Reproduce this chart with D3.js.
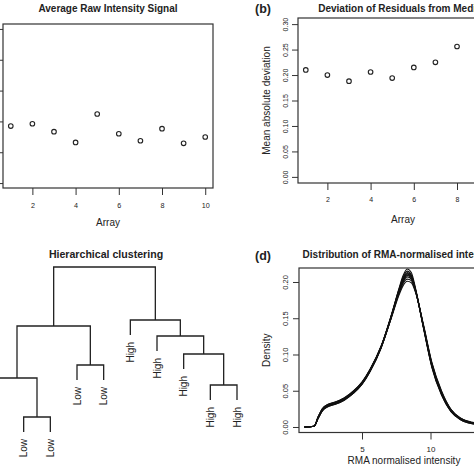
<!DOCTYPE html>
<html>
<head>
<meta charset="utf-8">
<script src="https://cdn.jsdelivr.net/npm/d3@7"></script>
<style>
  html, body { margin: 0; padding: 0; background: #fff; }
  svg { display: block; font-family: "Liberation Sans", Arial, Helvetica, sans-serif; }
</style>
</head>
<body>
<svg id="chart" width="474" height="474"></svg>
<script>
// ---------- DATA ----------
const arrayIdx = [1, 2, 3, 4, 5, 6, 7, 8, 9, 10];
const arrayTicks = [2, 4, 6, 8, 10];

// (a) average raw intensity (tick labels lie outside the crop)
const rawIntensity = [185, 192.5, 166.6, 132, 224, 160, 137.3, 176.3, 129, 149.4];
const rawTicks = [0, 100, 200, 300, 400, 500];

// (b) mean absolute deviation of residuals (arrays 1..8 visible)
const madArrays = [1, 2, 3, 4, 5, 6, 7, 8];
const madValues = [0.210, 0.200, 0.188, 0.206, 0.194, 0.215, 0.225, 0.256];
const madTicks = [0, 0.05, 0.10, 0.15, 0.20, 0.25, 0.30];

// (c) hierarchical clustering (leaves in plotted order)
const leafLabels = ["Low", "Low", "Low", "Low", "Low", "High", "High", "High", "High", "High"];
const mergeLeft   = ["L1", "L8", "L0", "L3", "L7", "L6", "M3", "L5", "M7"];
const mergeRight  = ["L2", "L9", "M1", "L4", "M2", "M5", "M4", "M6", "M8"];
const mergeHeight = [5.0, 8.2, 8.9, 10.2, 11.3, 13.1, 14.1, 14.7, 20.0];

// (d) density of RMA-normalised intensity (10 arrays)
const densX = [0.8, 1.5, 1.8, 2.1, 2.5, 3.0, 3.7, 4.4, 5.0, 5.6, 6.4, 7.1, 7.7, 8.0, 8.3, 8.6, 8.9, 9.5, 10.1, 10.8, 11.5, 12.2, 13.2, 14.2, 15.0];
const dens1  = [0,0.001,0.012,0.022,0.028,0.031,0.037,0.047,0.059,0.077,0.110,0.151,0.191,0.209,0.218,0.213,0.192,0.136,0.082,0.044,0.021,0.010,0.004,0.002,0.001];
const dens2  = [0,0.001,0.013,0.023,0.029,0.032,0.038,0.048,0.060,0.078,0.111,0.152,0.190,0.207,0.215,0.210,0.190,0.135,0.083,0.045,0.021,0.010,0.004,0.002,0.001];
const dens3  = [0,0.001,0.014,0.024,0.030,0.033,0.039,0.049,0.061,0.079,0.111,0.151,0.189,0.205,0.213,0.209,0.190,0.136,0.084,0.046,0.022,0.011,0.005,0.002,0.001];
const dens4  = [0,0.001,0.012,0.023,0.029,0.032,0.038,0.047,0.059,0.078,0.110,0.150,0.188,0.204,0.212,0.208,0.189,0.137,0.085,0.046,0.022,0.011,0.005,0.002,0.001];
const dens5  = [0,0.001,0.013,0.023,0.030,0.033,0.039,0.049,0.061,0.079,0.111,0.150,0.187,0.203,0.211,0.207,0.189,0.137,0.085,0.047,0.022,0.011,0.005,0.002,0.001];
const dens6  = [0,0.001,0.014,0.025,0.031,0.034,0.040,0.050,0.062,0.080,0.112,0.151,0.187,0.202,0.210,0.206,0.188,0.137,0.086,0.047,0.023,0.011,0.005,0.002,0.001];
const dens7  = [0,0.001,0.012,0.022,0.028,0.031,0.037,0.047,0.059,0.077,0.109,0.149,0.186,0.201,0.209,0.206,0.189,0.138,0.086,0.047,0.023,0.011,0.005,0.002,0.001];
const dens8  = [0,0.001,0.013,0.024,0.030,0.033,0.039,0.048,0.060,0.078,0.110,0.149,0.185,0.200,0.207,0.204,0.188,0.138,0.087,0.048,0.023,0.012,0.005,0.002,0.001];
const dens9  = [0,0.001,0.014,0.025,0.031,0.034,0.040,0.050,0.062,0.080,0.111,0.149,0.184,0.198,0.204,0.202,0.187,0.139,0.088,0.049,0.024,0.012,0.005,0.002,0.001];
const dens10 = [0,0.001,0.013,0.024,0.030,0.033,0.039,0.049,0.061,0.079,0.110,0.148,0.182,0.195,0.201,0.199,0.186,0.140,0.089,0.050,0.024,0.012,0.006,0.003,0.001];
const densSeries = [dens1, dens2, dens3, dens4, dens5, dens6, dens7, dens8, dens9, dens10];
const densTicksX = [5, 10, 15];
const densTicksY = [0, 0.05, 0.10, 0.15, 0.20];

// ---------- DRAWING ----------
const W = 474, H = 474;
const svg = d3.select("#chart");
const INK = "#222";
const BOX = "#333";

function styleAxis(g, fontSize) {
  g.select(".domain").remove();
  g.selectAll(".tick line").attr("stroke", BOX).attr("stroke-width", 1);
  g.selectAll(".tick text").attr("fill", INK).style("font-size", fontSize + "px")
    .style("font-family", '"Liberation Sans", Arial, sans-serif');
  // drop labels that fall outside the visible crop
  g.selectAll(".tick").each(function () {
    const b = this.getBoundingClientRect();
    if (b.right > W + 2) d3.select(this).select("text").remove();
  });
}
function rotateYLabels(g, off) {
  g.selectAll(".tick text")
    .attr("x", null).attr("dy", null).attr("y", null)
    .attr("text-anchor", "middle")
    .attr("transform", `translate(${-off},0) rotate(-90)`);
}
function box(x0, y0, x1, y1) {
  svg.append("rect").attr("x", x0).attr("y", y0).attr("width", x1 - x0).attr("height", y1 - y0)
    .attr("fill", "none").attr("stroke", BOX).attr("stroke-width", 1.2);
}
function text(x, y, s, opts = {}) {
  const t = svg.append("text").attr("x", x).attr("y", y).text(s)
    .attr("fill", INK)
    .style("font-size", (opts.size || 10) + "px")
    .style("font-weight", opts.bold ? "bold" : "normal")
    .attr("text-anchor", opts.anchor || "middle");
  if (opts.rotate) t.attr("transform", `rotate(-90,${x},${y})`);
  return t;
}

// ----- Panel (a) -----
{
  const L = 3, R = 213, T = 24, B = 188;
  const x = d3.scaleLinear().domain([0.64, 10.36]).range([L, R]);
  const y = d3.scaleLinear().domain([-16, 516]).range([B, T]);
  const gx = svg.append("g").attr("transform", `translate(0,${B})`)
    .call(d3.axisBottom(x).tickValues(arrayTicks).tickSize(7).tickPadding(8));
  styleAxis(gx, 7.2);
  // y tick labels of this panel lie left of the cropped image: ticks only
  const gy = svg.append("g").attr("transform", `translate(${L},0)`)
    .call(d3.axisLeft(y).tickValues(rawTicks).tickSize(7).tickFormat(() => ""));
  styleAxis(gy, 7.2);
  box(L, T, R, B);
  svg.append("g").selectAll("circle").data(arrayIdx).join("circle")
    .attr("cx", d => x(d)).attr("cy", (d, i) => y(rawIntensity[i])).attr("r", 2.3)
    .attr("fill", "none").attr("stroke", INK).attr("stroke-width", 1.1);
  text((L + R) / 2, 12, "Average Raw Intensity Signal", { bold: true, size: 10 });
  text((L + R) / 2, 225.5, "Array", { size: 10 });
}

// ----- Panel (b) -----
{
  const L = 298, R = 508, T = 18, B = 183;
  const x = d3.scaleLinear().domain([0.64, 10.36]).range([L, R]);
  const y = d3.scaleLinear().domain([-0.012, 0.312]).range([B, T]);
  const gx = svg.append("g").attr("transform", `translate(0,${B})`)
    .call(d3.axisBottom(x).tickValues(arrayTicks).tickSize(7).tickPadding(7));
  styleAxis(gx, 7);
  const gy = svg.append("g").attr("transform", `translate(${L},0)`)
    .call(d3.axisLeft(y).tickValues(madTicks).tickSize(6).tickFormat(d3.format(".2f")));
  styleAxis(gy, 7);
  rotateYLabels(gy, 10.5);
  box(L, T, R, B);
  svg.append("g").selectAll("circle").data(madArrays).join("circle")
    .attr("cx", d => x(d)).attr("cy", (d, i) => y(madValues[i])).attr("r", 2.3)
    .attr("fill", "none").attr("stroke", INK).attr("stroke-width", 1.1);
  text((L + R) / 2, 12, "Deviation of Residuals from Median", { bold: true, size: 10 });
  text(255, 13.3, "(b)", { bold: true, size: 12.5, anchor: "start" });
  text((L + R) / 2, 222.7, "Array", { size: 10 });
  text(270, (T + B) / 2, "Mean absolute deviation", { size: 10, rotate: true });
}

// ----- Panel (c) dendrogram -----
{
  const x = d3.scaleLinear().domain([0, 9]).range([-3, 237]);
  const y = d3.scaleLinear().domain([0, 20]).range([467, 267]);
  const hang = 0.1 * (d3.max(mergeHeight) - d3.min(mergeHeight));
  const nodes = {};
  leafLabels.forEach((lab, i) => { nodes["L" + i] = { pos: i, h: null, leaf: true, label: lab }; });
  mergeHeight.forEach((h, i) => {
    const a = nodes[mergeLeft[i]], b = nodes[mergeRight[i]];
    if (a.leaf) a.h = h - hang;
    if (b.leaf) b.h = h - hang;
    nodes["M" + (i + 1)] = { pos: (a.pos + b.pos) / 2, h: h, a: a, b: b };
  });
  const g = svg.append("g");
  mergeHeight.forEach((h, i) => {
    const n = nodes["M" + (i + 1)];
    g.append("path")
      .attr("d", `M${x(n.a.pos)},${y(n.a.h)}V${y(h)}H${x(n.b.pos)}V${y(n.b.h)}`)
      .attr("fill", "none").attr("stroke", INK).attr("stroke-width", 1.3);
  });
  leafLabels.forEach((lab, i) => {
    const n = nodes["L" + i];
    const lx = x(n.pos), ly = y(n.h) + 7;
    if (lx < 4) return; // leaf label lies outside the cropped image
    g.append("text").attr("x", lx).attr("y", ly).text(lab)
      .attr("fill", INK).style("font-size", "10px")
      .attr("text-anchor", "end").attr("dy", "0.35em")
      .attr("transform", `rotate(-90,${lx},${ly})`);
  });
  text(106, 258, "Hierarchical clustering", { bold: true, size: 10.6 });
}

// ----- Panel (d) densities -----
{
  const L = 299, R = 509, T = 268, B = 432.5;
  const x = d3.scaleLinear().domain([0.4, 15.73]).range([L, R]);
  const y = d3.scaleLinear().domain([-0.0076, 0.2193]).range([B, T]);
  const gx = svg.append("g").attr("transform", `translate(0,${B})`)
    .call(d3.axisBottom(x).tickValues(densTicksX).tickSize(7).tickPadding(7));
  styleAxis(gx, 8);
  const gy = svg.append("g").attr("transform", `translate(${L},0)`)
    .call(d3.axisLeft(y).tickValues(densTicksY).tickSize(6).tickFormat(d3.format(".2f")));
  styleAxis(gy, 7.5);
  rotateYLabels(gy, 11.5);
  const line = d3.line().x((d, i) => x(densX[i])).y(d => y(d)).curve(d3.curveMonotoneX);
  svg.append("g").selectAll("path").data(densSeries).join("path")
    .attr("d", line).attr("fill", "none").attr("stroke", "#111").attr("stroke-width", 1.1);
  box(L, T, R, B);
  text((L + R) / 2, 257.7, "Distribution of RMA-normalised intensities", { bold: true, size: 10 });
  text(255, 259.5, "(d)", { bold: true, size: 12.5, anchor: "start" });
  text(404, 464, "RMA normalised intensity", { size: 10 });
  text(270, (T + B) / 2, "Density", { size: 10, rotate: true });
}
</script>
</body>
</html>
